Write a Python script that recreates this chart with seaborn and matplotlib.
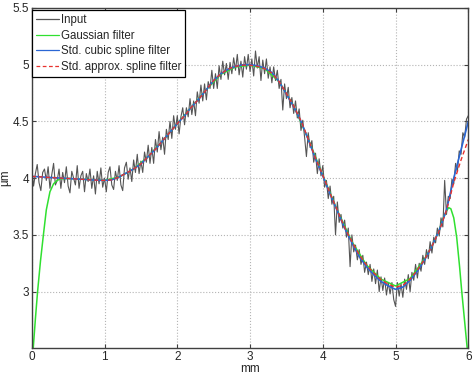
import numpy as np
import pandas as pd
import seaborn as sns
import matplotlib.pyplot as plt

# raw profile, sampled every 0.025 mm from 0 to 6 mm
input_um = [
    4.08, 3.93, 4.04, 4.12, 3.96, 3.89, 4.05, 4.08, 3.98, 4.10,
    3.91, 4.03, 4.13, 3.94, 3.98, 4.08, 3.91, 4.05, 3.96, 4.10,
    3.93, 3.87, 4.06, 4.00, 3.94, 4.11, 3.91, 4.02, 4.06, 3.88,
    4.04, 3.97, 4.08, 3.91, 4.02, 3.86, 4.06, 3.95, 4.09, 3.92,
    4.00, 3.88, 4.05, 4.10, 3.94, 3.90, 4.06, 3.98, 4.11, 3.94,
    3.89, 4.09, 4.14, 3.99, 4.09, 3.97, 4.16, 4.05, 4.21, 4.04,
    4.15, 4.05, 4.23, 4.14, 4.29, 4.13, 4.27, 4.13, 4.34, 4.23,
    4.41, 4.25, 4.36, 4.21, 4.43, 4.34, 4.50, 4.35, 4.55, 4.43,
    4.55, 4.39, 4.54, 4.62, 4.47, 4.62, 4.54, 4.70, 4.56, 4.68,
    4.55, 4.76, 4.66, 4.82, 4.68, 4.83, 4.69, 4.85, 4.79, 4.95,
    4.79, 4.92, 4.79, 4.99, 4.87, 5.03, 4.91, 5.01, 4.87, 5.02,
    4.92, 5.06, 4.95, 5.09, 4.91, 5.03, 4.89, 5.07, 4.96, 5.09,
    4.94, 5.05, 4.90, 5.12, 4.97, 5.07, 4.86, 5.04, 4.92, 5.05,
    4.88, 4.98, 4.84, 4.98, 4.86, 4.95, 4.79, 4.87, 4.60, 4.83,
    4.70, 4.80, 4.62, 4.71, 4.57, 4.68, 4.53, 4.61, 4.42, 4.51,
    4.36, 4.19, 4.40, 4.27, 4.33, 4.14, 4.22, 4.04, 4.17, 4.02,
    4.11, 3.92, 3.98, 3.82, 3.93, 3.77, 3.84, 3.50, 3.79, 3.61,
    3.68, 3.56, 3.63, 3.48, 3.56, 3.22, 3.50, 3.35, 3.41, 3.28,
    3.37, 3.24, 3.32, 3.17, 3.26, 3.15, 3.24, 3.09, 3.20, 3.07,
    3.19, 3.00, 3.13, 3.01, 3.12, 2.97, 3.08, 2.98, 3.08, 2.93,
    2.87, 3.08, 2.96, 3.07, 2.95, 3.11, 3.02, 3.15, 3.00, 3.17,
    3.10, 3.24, 3.12, 3.25, 3.18, 3.32, 3.24, 3.37, 3.29, 3.44,
    3.34, 3.48, 3.43, 3.56, 3.49, 3.65, 3.57, 3.98, 3.68, 3.84,
    3.82, 3.99, 3.95, 4.13, 4.06, 4.24, 4.21, 4.40, 4.36, 4.52,
    4.55,
]
input_mm = np.linspace(0, 6, len(input_um))

# filtered profiles, every 0.1 mm
spline_mm = [round(0.1 * i, 1) for i in range(61)]
cubic_um = [
    4.015, 4.012, 4.008, 4.004, 4.000, 3.997, 3.993, 3.990, 3.985, 3.982,
    3.980, 3.985, 4.010, 4.045, 4.080, 4.125, 4.190, 4.255, 4.330, 4.405,
    4.480, 4.550, 4.630, 4.700, 4.780, 4.860, 4.920, 4.960, 4.985, 4.998,
    5.000, 4.990, 4.970, 4.930, 4.850, 4.740, 4.630, 4.500, 4.340, 4.170,
    4.020, 3.860, 3.710, 3.560, 3.430, 3.310, 3.220, 3.150, 3.090, 3.050,
    3.020, 3.040, 3.100, 3.180, 3.280, 3.400, 3.540, 3.720, 4.000, 4.250,
    4.500,
]
approx_um = [
    4.015, 4.012, 4.008, 4.004, 4.000, 3.997, 3.993, 3.990, 3.985, 3.982,
    3.980, 3.985, 4.010, 4.045, 4.080, 4.125, 4.190, 4.255, 4.330, 4.405,
    4.480, 4.550, 4.630, 4.700, 4.780, 4.860, 4.920, 4.960, 4.985, 4.995,
    4.995, 4.985, 4.965, 4.925, 4.850, 4.745, 4.635, 4.505, 4.345, 4.175,
    4.025, 3.865, 3.715, 3.565, 3.440, 3.325, 3.235, 3.165, 3.105, 3.065,
    3.040, 3.055, 3.110, 3.190, 3.285, 3.400, 3.535, 3.715, 3.960, 4.160,
    4.340,
]
gauss_mm = [
    0.02, 0.05, 0.08, 0.12, 0.16, 0.20, 0.25, 0.30, 0.35, 0.40, 0.50,
    0.7, 1.0, 1.2, 1.4, 1.6, 1.8, 2.0, 2.2, 2.4, 2.6, 2.8, 3.0, 3.2,
    3.4, 3.6, 3.8, 4.0, 4.2, 4.4, 4.6, 4.8, 5.0, 5.2, 5.4, 5.5, 5.6,
    5.65, 5.7, 5.73, 5.76, 5.8, 5.84, 5.88, 5.91, 5.94, 5.97, 5.985,
]
gauss_um = [
    2.50, 2.76, 3.00, 3.27, 3.50, 3.72, 3.88, 3.95, 3.98, 3.995, 3.997,
    3.990, 3.980, 4.010, 4.080, 4.190, 4.330, 4.480, 4.630, 4.780, 4.915,
    4.980, 4.995, 4.965, 4.850, 4.635, 4.345, 4.025, 3.715, 3.440, 3.235,
    3.110, 3.050, 3.115, 3.290, 3.400, 3.540, 3.640, 3.710, 3.740, 3.730,
    3.650, 3.480, 3.220, 3.000, 2.800, 2.600, 2.500,
]

sns.set_style("ticks")
plt.rcParams['font.family'] = ['Liberation Sans', 'DejaVu Sans']

fig, ax = plt.subplots(figsize=(4.74, 3.75), dpi=100)
fig.subplots_adjust(left=0.067, right=0.988, bottom=0.071, top=0.979)

sns.lineplot(x=input_mm, y=input_um, ax=ax, color='#555555', lw=0.8,
             estimator=None, sort=False, label='Input')
sns.lineplot(x=gauss_mm, y=gauss_um, ax=ax, color='#30e030', lw=1.1,
             estimator=None, sort=False, label='Gaussian filter')
sns.lineplot(x=spline_mm, y=cubic_um, ax=ax, color='#2a66d4', lw=1.2,
             estimator=None, sort=False, label='Std. cubic spline filter')
sns.lineplot(x=spline_mm, y=approx_um, ax=ax, color='#e8322e', lw=1.0,
             estimator=None, sort=False, label='Std. approx. spline filter')
ax.lines[-1].set_dashes([3, 2])

ax.set_xlim(0, 6)
ax.set_ylim(2.5, 5.5)
ax.set_xticks([0, 1, 2, 3, 4, 5, 6])
ax.set_yticks([3, 3.5, 4, 4.5, 5, 5.5])
ax.set_yticklabels(['3', '3.5', '4', '4.5', '5', '5.5'])
ax.grid(True, ls=':', color='#b4b4b4', lw=0.8)
ax.tick_params(direction='in', top=True, right=True, length=3, labelsize=8.5,
               color='#404040', pad=2)
for s in ax.spines.values():
    s.set_color('#404040')
    s.set_linewidth(1.0)

ax.set_xlabel('mm', fontsize=8.5, labelpad=0)
ax.set_ylabel('µm', fontsize=8.5)
ax.yaxis.set_label_coords(-0.048, 0.5)

leg = ax.legend(loc='upper left', bbox_to_anchor=(0.0, 0.993), fontsize=8.3,
                frameon=True, fancybox=False, framealpha=1, edgecolor='black',
                borderpad=0.35, labelspacing=0.3, handlelength=2.0,
                handletextpad=0.15, borderaxespad=0)
leg.get_frame().set_linewidth(0.9)
for h in leg.get_lines():
    h.set_linewidth(0.9)

fig.savefig('out.png', dpi=100)
